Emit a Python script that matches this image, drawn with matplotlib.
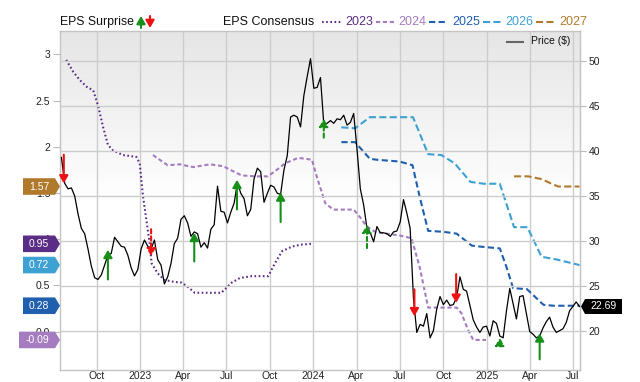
import numpy as np
import pandas as pd
import matplotlib
matplotlib.use('Agg')
import matplotlib.pyplot as plt
import matplotlib.dates as mdates
import matplotlib.transforms as mtransforms
from matplotlib.patches import Polygon, FancyArrowPatch
from matplotlib.lines import Line2D
from matplotlib.ticker import FuncFormatter

plt.rcParams['font.family'] = ['Liberation Sans', 'DejaVu Sans']

# ---------------- data ----------------
price_end = '2025-07-15'
price = [39.3, 36.4, 35.8, 35.9, 35.0, 33.0, 31.4, 30.8, 29.1, 27.2,
         25.9, 25.7, 26.2, 27.3, 28.4, 28.6, 30.4, 29.9, 29.4, 29.3,
         28.4, 27.0, 26.1, 26.8, 29.1, 30.1, 29.4, 29.1, 30.1, 27.9,
         27.3, 25.2, 26.0, 27.5, 29.7, 30.3, 32.4, 32.8, 32.0, 30.5,
         31.0, 30.8, 29.3, 29.8, 29.2, 31.3, 31.8, 36.1, 33.3, 33.2,
         32.0, 33.2, 34.2, 36.5, 35.3, 34.7, 32.8, 33.5, 36.9, 38.1,
         37.7, 34.3, 35.3, 36.2, 36.0, 35.3, 35.2, 37.9, 39.5, 43.8,
         44.0, 43.8, 42.7, 46.2, 48.3, 50.3, 47.0, 47.1, 48.2, 43.0,
         43.1, 43.4, 43.1, 43.6, 43.5, 44.0, 42.9, 43.2, 44.2, 40.2,
         35.8, 34.0, 31.4, 30.9, 29.9, 31.6, 30.9, 30.9, 30.8, 30.5,
         31.0, 31.1, 32.1, 34.6, 33.1, 31.4, 23.6, 19.8, 20.7, 20.5,
         21.9, 19.2, 20.0, 22.4, 23.8, 22.9, 23.4, 22.8, 22.9, 23.7,
         26.0, 24.6, 24.4, 22.8, 21.2, 20.4, 19.8, 20.4, 20.5, 19.4,
         21.1, 20.8, 19.4, 19.2, 22.2, 24.7, 23.0, 21.3, 23.8, 23.9,
         21.9, 19.9, 19.6, 19.2, 19.4, 20.3, 21.0, 21.5, 20.4, 19.8,
         20.0, 20.2, 20.9, 22.2, 22.7, 23.2, 22.69]

eps_2023_dates = ['2022-07-29', '2022-08-13', '2022-08-27', '2022-09-10', '2022-09-24',
                  '2022-10-04', '2022-10-15', '2022-10-25', '2022-11-05', '2022-11-26',
                  '2022-12-24', '2022-12-31', '2023-01-07', '2023-01-14', '2023-01-21',
                  '2023-01-25', '2023-02-07', '2023-02-21', '2023-03-11', '2023-03-29',
                  '2023-04-10', '2023-04-26', '2023-05-17', '2023-06-21', '2023-07-13',
                  '2023-07-30', '2023-08-24', '2023-09-28', '2023-10-12', '2023-10-27',
                  '2023-11-17', '2023-12-04', '2023-12-28']
eps_2023 = [2.94, 2.81, 2.72, 2.65, 2.61, 2.45, 2.21, 2.02, 1.96, 1.91,
            1.89, 1.82, 1.46, 1.21, 0.96, 0.74, 0.63, 0.56, 0.54, 0.53,
            0.49, 0.42, 0.42, 0.42, 0.53, 0.58, 0.60, 0.60, 0.74, 0.87,
            0.92, 0.94, 0.95]

eps_2024_dates = ['2023-01-28', '2023-02-11', '2023-02-28', '2023-03-25', '2023-04-23',
                  '2023-05-28', '2023-06-25', '2023-07-14', '2023-08-03', '2023-08-31',
                  '2023-09-27', '2023-10-16', '2023-11-02', '2023-11-30', '2023-12-29',
                  '2024-01-08', '2024-01-26', '2024-02-12', '2024-03-26', '2024-04-08',
                  '2024-04-22', '2024-05-10', '2024-06-03', '2024-07-01', '2024-07-26',
                  '2024-08-12', '2024-08-30', '2024-10-15', '2024-10-29', '2024-11-08',
                  '2024-11-22', '2024-12-03', '2024-12-30']
eps_2024 = [1.91, 1.86, 1.80, 1.81, 1.78, 1.81, 1.79, 1.74, 1.69, 1.68,
            1.68, 1.75, 1.82, 1.88, 1.86, 1.68, 1.39, 1.32, 1.32, 1.24,
            1.14, 1.08, 1.06, 1.04, 1.01, 0.70, 0.26, 0.26, 0.26, 0.20,
            0.02, -0.09, -0.09]

eps_2025_dates = ['2024-02-29', '2024-03-29', '2024-04-29', '2024-05-13', '2024-07-01',
                  '2024-07-28', '2024-08-12', '2024-08-30', '2024-10-01', '2024-10-29',
                  '2024-11-30', '2024-12-17', '2025-01-28', '2025-02-11', '2025-02-25',
                  '2025-03-26', '2025-04-30', '2025-05-21', '2025-07-15']
eps_2025 = [2.05, 2.05, 1.87, 1.86, 1.84, 1.80, 1.46, 1.09, 1.08, 1.06,
            0.93, 0.92, 0.90, 0.70, 0.47, 0.46, 0.29, 0.28, 0.28]

eps_2026_dates = ['2024-02-29', '2024-03-29', '2024-04-29', '2024-07-29', '2024-08-30',
                  '2024-09-27', '2024-10-25', '2024-11-27', '2024-12-25', '2025-01-28',
                  '2025-02-27', '2025-03-27', '2025-04-26', '2025-05-28', '2025-07-15']
eps_2026 = [2.21, 2.20, 2.32, 2.32, 1.92, 1.91, 1.82, 1.62, 1.60, 1.60,
            1.13, 1.13, 0.81, 0.78, 0.72]

eps_2027_dates = ['2025-02-27', '2025-03-29', '2025-04-26', '2025-05-17', '2025-05-31', '2025-07-15']
eps_2027 = [1.68, 1.68, 1.65, 1.60, 1.57, 1.57]

surprise_dates = ['2022-07-24', '2022-10-25', '2023-01-24', '2023-04-25', '2023-07-24', '2023-10-24',
                  '2024-01-23', '2024-04-23', '2024-08-01', '2024-10-28', '2025-01-28', '2025-04-22']
surprise_from = [39.6, 25.7, 31.3, 27.7, 33.5, 32.1, 41.5, 29.2, 24.6, 26.3, 18.3, 16.8]
surprise_to = [36.4, 29.0, 28.3, 30.9, 36.8, 35.4, 43.6, 31.8, 21.6, 23.1, 19.2, 19.7]
surprise_dashed = [False, False, True, False, False, False, True, True, False, False, True, False]

years = ['2023', '2024', '2025', '2026', '2027']
last_eps = {'2027': 1.57, '2023': 0.95, '2026': 0.72, '2025': 0.28, '2024': -0.09}
last_price = 22.69

# ---------------- styles ----------------
colors = {'2023': '#5b2d86', '2024': '#a57cc0', '2025': '#1f5fae',
          '2026': '#3da1d3', '2027': '#b07a2c'}
styles = {'2023': (0, (0.8, 1.2)), '2024': (0, (2.0, 1.3)), '2025': (0, (3.0, 1.6)),
          '2026': (0, (3.4, 1.6)), '2027': (0, (3.4, 1.6))}
GREEN = '#17901a'
RED = '#ee1111'
W, H = 640, 382

fig = plt.figure(figsize=(W / 100, H / 100), dpi=100)
L, R, T, B = 60, 580, 30.5, 369.5
ax = fig.add_axes([L / W, (H - B) / H, (R - L) / W, (B - T) / H])

# gradient background
t = np.linspace(0, 1, 200)
g = 0.90 + 0.10 * np.clip(t / 0.5, 0, 1)
grad = np.repeat(g[:, None], 2, axis=1)
grad = np.stack([grad, grad, grad], axis=-1)
ax.imshow(grad, extent=[0, 1, 0, 1], transform=ax.transAxes, aspect='auto',
          zorder=0, interpolation='bilinear')

xmin, xmax = pd.Timestamp('2022-07-16'), pd.Timestamp('2025-07-16')

# EPS consensus lines
eps_data = {'2023': (eps_2023_dates, eps_2023), '2024': (eps_2024_dates, eps_2024),
            '2025': (eps_2025_dates, eps_2025), '2026': (eps_2026_dates, eps_2026),
            '2027': (eps_2027_dates, eps_2027)}
for y in years:
    d, v = eps_data[y]
    ax.plot(pd.to_datetime(d), v, color=colors[y], lw=1.5, linestyle=styles[y], zorder=3)

ax.set_xlim(xmin, xmax)
ax.set_ylim(-0.41, 3.258)
ax.set_yticks([0, 0.5, 1, 1.5, 2, 2.5, 3])
ax.set_yticklabels(['0.0', '0.5', '1', '1.5', '2', '2.5', '3'])
ax.xaxis.set_major_locator(mdates.MonthLocator(bymonth=[1, 4, 7, 10]))
ax.xaxis.set_major_formatter(FuncFormatter(
    lambda x, p: str(mdates.num2date(x).year) if mdates.num2date(x).month == 1
    else mdates.num2date(x).strftime('%b')))
ax.grid(axis='x', color='#cdcdcd', lw=1.0, zorder=1)
ax.set_axisbelow(True)
ax.tick_params(axis='x', length=0, pad=1, labelsize=7.5, colors='#222222')
ax.tick_params(axis='y', length=5, width=0.8, color='#bbbbbb', pad=2,
               labelsize=7.5, labelcolor='#222222')
for s in ax.spines.values():
    s.set_color('#c4c4c4')
    s.set_linewidth(1.0)

# price axis
axp = ax.twinx()
axp.set_ylim(15.67, 53.44)
axp.set_yticks([20, 25, 30, 35, 40, 45, 50])
axp.grid(axis='y', color='#cdcdcd', lw=1.0, zorder=0)
axp.set_axisbelow(True)
axp.tick_params(axis='y', length=4, width=0.8, color='#bbbbbb', pad=2,
                labelsize=7.5, labelcolor='#222222')
for k in ['left', 'top', 'bottom']:
    axp.spines[k].set_visible(False)
axp.spines['right'].set_color('#c4c4c4')

pdates = pd.date_range(end=price_end, periods=len(price), freq='7D')
axp.plot(pdates, price, color='black', lw=0.9, zorder=4)

for d, a, b, dash in zip(surprise_dates, surprise_from, surprise_to, surprise_dashed):
    col = GREEN if b > a else RED
    dd = pd.Timestamp(d)
    axp.annotate('', xy=(dd, b), xytext=(dd, a),
                 arrowprops=dict(arrowstyle='-|>,head_length=0.45,head_width=0.26',
                                 color=col, lw=1.5, shrinkA=0, shrinkB=0,
                                 linestyle=(0, (2.0, 1.4)) if dash else '-'),
                 zorder=6)
axp.set_xlim(xmin, xmax)

# value tags
def tag_trans(axis, xa, yv):
    blend = mtransforms.blended_transform_factory(axis.transAxes, axis.transData)
    return fig.dpi_scale_trans + mtransforms.ScaledTranslation(xa, yv, blend)

for y in years:
    v = last_eps[y]
    txt = f'{v:.2f}'
    w = 0.32 if len(txt) <= 4 else 0.36
    tr = tag_trans(ax, 0, v)
    poly = Polygon([(-0.05 - w, -0.083), (-0.05, -0.083), (0, 0), (-0.05, 0.083),
                    (-0.05 - w, 0.083)], closed=True, transform=tr, facecolor=colors[y],
                   edgecolor='none', clip_on=False, zorder=10)
    fig.add_artist(poly)
    fig.text(-0.05 - w / 2, 0, txt, transform=tr, color='white', fontsize=7.5,
             ha='center', va='center', zorder=11)

trp = tag_trans(axp, 1, last_price)
fig.add_artist(Polygon([(0.01, 0), (0.05, -0.075), (0.42, -0.075), (0.42, 0.075),
                        (0.05, 0.075)], closed=True, transform=trp, facecolor='black',
                       edgecolor='none', clip_on=False, zorder=10))
fig.text(0.235, 0, f'{last_price:.2f}', transform=trp, color='white', fontsize=7.5,
         ha='center', va='center', zorder=11)

# top legend
def fx(x):
    return x / W

def fy(y):
    return (H - y) / H

ly = 22
fig.text(fx(60), fy(ly), 'EPS Surprise', fontsize=8.8, va='center', ha='left', color='#111111')
fig.add_artist(FancyArrowPatch((fx(141), fy(28)), (fx(141), fy(16)), transform=fig.transFigure,
                               arrowstyle='-|>,head_length=0.45,head_width=0.26',
                               mutation_scale=10, color=GREEN, lw=1.5, shrinkA=0, shrinkB=0))
fig.add_artist(FancyArrowPatch((fx(150), fy(16)), (fx(150), fy(28)), transform=fig.transFigure,
                               arrowstyle='-|>,head_length=0.45,head_width=0.26',
                               mutation_scale=10, color=RED, lw=1.5, shrinkA=0, shrinkB=0))
fig.text(fx(223), fy(ly), 'EPS Consensus', fontsize=9, va='center', ha='left', color='#111111')
x0 = 322
for y in years:
    fig.add_artist(Line2D([fx(x0), fx(x0 + 19)], [fy(ly), fy(ly)], transform=fig.transFigure,
                          color=colors[y], lw=1.5, linestyle=styles[y]))
    fig.text(fx(x0 + 23), fy(ly), y, fontsize=9, va='center', ha='left', color=colors[y])
    x0 += 53.5

# price legend inside plot
fig.add_artist(Line2D([fx(507), fx(523)], [fy(41.5), fy(41.5)], transform=fig.transFigure,
                      color='#666666', lw=1.5))
fig.text(fx(531), fy(41.5), 'Price ($)', fontsize=7.5, va='center', ha='left', color='#111111')

fig.savefig('out.png', dpi=100)
